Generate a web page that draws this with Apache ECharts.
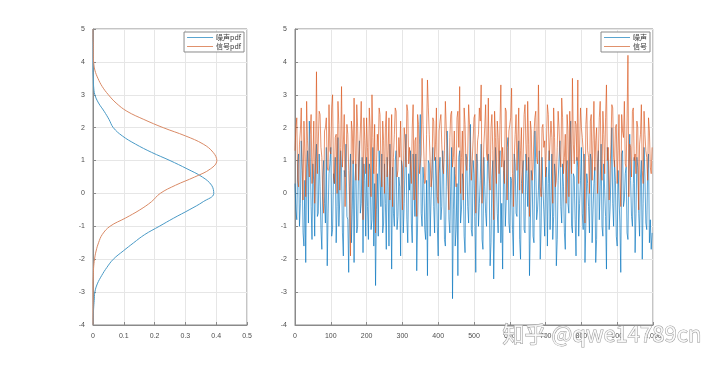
<!DOCTYPE html>
<html><head><meta charset="utf-8">
<script src="https://cdn.jsdelivr.net/npm/echarts@6/dist/echarts.min.js"></script>
<style>html,body{margin:0;padding:0;background:#fff}#c{width:720px;height:366px}</style>
</head><body><div id="c"></div>
<script>
// PDF curves: value level (y) and density (x)
const pdfLevels = [-4,-3.75,-3.5,-3.25,-3,-2.75,-2.5,-2.25,-2,-1.75,-1.5,-1.25,-1,-0.75,-0.5,-0.25,0,0.25,0.5,0.75,1,1.25,1.5,1.75,2,2.25,2.5,2.75,3,3.25,3.5,3.75,4,4.25,4.5,4.75,5];
const noisePdf = [0,0.001,0.002,0.004,0.006,0.014,0.028,0.045,0.066,0.098,0.132,0.168,0.215,0.262,0.312,0.358,0.392,0.385,0.355,0.305,0.25,0.19,0.138,0.095,0.066,0.052,0.036,0.018,0.006,0.002,0.001,0,0,0,0,0,0];
const signalPdf = [0,0,0,0,0,0,0.001,0.002,0.005,0.01,0.018,0.03,0.055,0.105,0.152,0.19,0.218,0.268,0.33,0.382,0.402,0.39,0.358,0.3,0.228,0.165,0.11,0.075,0.05,0.03,0.016,0.006,0.002,0.001,0.001,0,0];

// time series: samples at index 0,5,10,... and in-between samples at 2.5,7.5,...
const noiseSeries = [0.3,-0.8,1.2,-0.3,0.7,-1.6,-2.1,1.3,2.2,-0.4,0.9,-1.3,1.5,-0.6,0.2,-1.7,1.0,-0.9,-2.2,0.6,
1.4,-1.1,0.3,-1.5,1.7,-0.2,0.8,-1.9,0.5,-0.7,-2.4,1.2,-0.5,-2.1,0.9,-1.0,1.6,-0.3,-1.8,0.4,
1.1,-1.4,0.7,-0.8,-1.6,-2.8,0.6,1.3,-0.4,-1.2,0.9,-1.7,0.2,1.5,-2.3,-0.6,1.0,-1.1,0.5,-1.9,
0.8,-0.3,1.8,-1.5,0.1,-0.9,1.2,-0.7,-2.35,0.6,2.4,-1.0,0.3,-1.4,-2.5,0.9,-0.2,1.4,-1.2,0.5,
-1.9,1.1,-0.4,0.7,-1.6,1.9,-0.8,0.2,-3.2,0.8,-1.1,-2.5,1.3,-0.5,0.4,-1.8,1.0,-0.9,2.1,-1.3,
0.6,-2.4,0.9,-0.3,1.5,-1.7,0.2,-1.0,1.2,-2.2,0.5,-2.6,1.4,-0.6,0.8,-1.5,-2.3,1.0,-0.2,1.7,
-1.2,0.4,-1.9,0.9,-0.7,1.6,-2.0,0.3,-1.1,1.2,-0.4,-2.5,0.7,-1.3,1.9,-0.8,0.1,-2.0,1.1,-0.5,
0.6,-1.6,1.3,-0.2,-1.4,0.9,-2.2,0.4,1.6,-0.9,0.2,-1.7,1.0,-0.6,2.2,-1.2,0.5,-1.9,0.8,-0.3,
1.4,-1.1,-2.1,0.6,-0.4,1.2,-1.5,0.3,-2.1,0.9,-0.8,1.5,-1.3,0.1,-2.3,1.0,-0.5,2.0,-1.0,0.4,
-1.6,0.7,-2.4,1.3,-0.2,0.8,-1.4,1.8,-0.7,0.3,-1.8,1.1,-0.6,0.5,-2.0,1.4,-0.9,0.6,-1.5,-1.7];
const noiseSeriesMid = [-0.5,0.9,-1.0,1.6,-1.2,0.4,0.8,-0.9,1.1,-1.4,
0.3,1.0,-0.7,1.2,-1.1,0.5,-0.3,1.4,-0.6,0.9,
-1.3,0.6,1.1,-0.4,-1.0,1.3,-1.2,0.7,1.5,-0.8,
0.2,-1.5,1.0,0.4,-1.2,0.8,-0.6,1.1,0.9,-1.3,
-0.4,0.9,-1.1,1.4,0.3,-0.5,-1.3,0.5,1.2,-0.9,
-0.3,1.1,-1.6,0.4,0.8,-1.0,1.3,-0.7,0.2,1.0,
-1.2,0.9,-0.8,0.6,1.3,-1.5,0.1,1.2,-0.9,1.5,
-0.6,0.8,-1.1,0.4,1.0,-1.3,0.7,-0.4,1.1,-1.0,
0.6,-0.8,1.3,-1.4,0.2,0.9,-1.2,1.4,-0.5,-1.6,
0.3,1.1,-0.9,0.6,-1.3,1.2,-0.4,0.8,-1.1,1.0,
-0.7,1.2,-1.0,0.4,-1.4,1.1,-0.6,0.9,0.3,-1.5,
1.0,-0.8,0.5,-1.2,1.3,-0.3,0.7,-1.0,1.4,-0.9,
0.5,-1.1,1.2,-0.6,0.8,-1.4,0.3,1.0,-1.2,0.6,
1.1,-0.9,0.4,-1.5,0.9,-0.5,1.3,-1.0,0.2,-1.3,
0.8,0.3,-1.1,1.2,-0.7,0.5,-1.4,1.0,-0.4,0.9,
-1.2,0.7,-0.3,1.5,-1.0,0.6,-0.8,1.1,-1.3,0.4,
-0.6,1.2,-0.9,0.3,-1.2,1.0,-0.5,0.8,-1.4,1.3,
0.2,-1.0,0.9,-0.7,1.4,-1.1,0.5,-0.3,1.0,-1.3,
0.7,-0.9,1.2,-0.4,0.6,-1.2,0.9,0.4,-1.0,1.1,
-0.6,0.8,-1.3,1.0,-0.3,0.5,-1.1,1.2,-0.8,-1.2];
const signalSeries = [1.3,2.3,0.2,1.9,0.9,2.2,-0.1,1.6,0.5,2.4,1.0,-0.3,3.7,0.6,2.4,1.1,-0.6,2.0,0.8,2.7,
1.2,3.0,0.3,1.8,2.8,0.1,3.25,1.5,-0.4,2.1,0.7,-1.9,1.9,2.9,0.4,2.0,1.2,2.8,-0.8,1.6,
2.3,0.2,2.0,3.0,0.6,-1.2,1.8,2.6,0.9,2.2,0.0,2.5,1.3,-0.2,2.4,1.1,2.6,0.5,1.7,2.2,
-0.5,2.0,0.8,2.5,1.4,0.3,2.7,1.6,-0.7,2.1,0.9,3.5,1.2,0.4,3.45,1.8,0.2,2.3,1.0,2.6,
-0.3,2.2,1.5,0.6,2.8,1.3,-0.5,2.4,0.8,1.9,0.2,2.5,3.25,1.1,-0.2,2.1,0.7,2.7,1.4,0.4,
2.3,-0.6,1.6,2.6,3.3,0.5,2.0,1.2,2.9,0.1,2.4,-0.8,1.7,2.2,0.6,3.3,1.4,0.3,2.5,1.0,
2.1,3.2,-0.4,1.8,0.7,2.6,1.3,0.0,2.4,1.5,2.8,-0.7,1.9,0.8,2.3,1.1,3.3,0.2,2.0,1.4,
0.5,2.7,1.0,2.2,-0.3,1.7,0.4,2.5,1.2,2.9,0.6,1.8,2.4,-0.1,1.5,3.5,0.9,2.1,3.45,0.3,
2.0,1.3,-0.9,2.6,1.1,2.2,0.4,2.8,1.6,0.0,2.3,1.0,2.5,0.6,3.3,1.4,-0.2,2.7,1.1,2.0,
0.3,2.4,-0.4,1.9,2.8,0.8,4.2,1.5,0.5,2.6,1.2,2.2,-0.5,1.8,0.7,2.5,1.3,0.4,1.9,0.6];
const signalSeriesMid = [2.0,0.4,1.5,2.6,-0.2,1.2,2.8,0.9,1.8,0.3,
2.2,1.0,0.6,2.5,1.4,-0.1,1.9,2.3,0.7,1.3,
2.6,0.5,1.7,0.0,2.1,1.4,0.8,2.4,1.0,1.8,
-0.3,2.2,0.9,1.5,2.7,0.4,1.9,1.1,2.3,0.6,
1.4,2.6,-0.1,1.7,2.1,0.8,1.3,2.4,0.2,1.6,
2.0,0.5,2.3,1.2,-0.4,1.8,2.5,0.7,1.1,2.2,
0.4,1.6,2.7,0.9,1.4,2.0,-0.2,1.7,2.4,0.6,
1.2,2.1,0.3,1.8,2.6,1.0,0.5,2.2,1.5,-0.1,
1.9,2.4,0.8,1.3,2.0,0.2,1.7,2.5,1.1,0.6,
2.3,1.4,0.0,1.9,2.6,0.9,1.2,2.1,0.4,1.6,
2.4,0.7,1.8,2.2,-0.3,1.5,2.7,1.0,0.5,2.0,
1.3,2.5,0.3,1.7,2.1,0.8,1.4,2.6,-0.2,1.9,
2.3,0.6,1.1,2.4,1.6,0.1,2.0,1.2,2.7,0.7,
1.5,2.2,0.4,1.8,2.5,0.9,1.3,-0.1,2.1,1.6,
0.5,2.4,1.0,1.7,2.6,0.2,1.4,2.0,0.8,2.3,
1.1,-0.3,1.9,2.5,0.6,1.5,2.2,1.0,0.3,2.6,
1.7,0.9,2.1,1.3,0.0,2.4,1.6,0.7,2.0,1.2,
2.8,0.4,1.8,2.3,1.0,-0.2,1.5,2.6,0.8,2.1,
1.3,0.5,2.4,1.7,0.9,2.2,-0.1,1.4,2.5,1.0,
0.6,2.0,1.5,2.7,0.3,1.8,1.1,2.3,0.8,1.4];

const pdfXTicks = [0,0.1,0.2,0.3,0.4,0.5];
const levelTicks = [-4,-3,-2,-1,0,1,2,3,4,5];
const sampleTicks = [0,100,200,300,400,500,600,700,800,900,1000];

function interleave(a, b){
  const out = [];
  for (let i = 0; i < a.length; i++){ out.push([i*5, a[i]]); out.push([i*5+2.5, b[i]]); }
  return out;
}

const BLUE = '#0072BD', ORANGE = '#D95319';
const LBLUE = '#5aa5d0', LORANGE = '#e0916c';
const chart = echarts.init(document.getElementById('c'), null, {renderer:'canvas'});
const axisCommon = {
  axisLine:{show:true, onZero:false, lineStyle:{color:'#8a8a8a', width:1}},
  axisTick:{show:true, inside:true, length:3, lineStyle:{color:'#8a8a8a'}},
  axisLabel:{fontSize:7, color:'#4d4d4d', fontFamily:'Liberation Sans'},
  splitLine:{show:true, lineStyle:{color:'#e6e6e6', width:1}}
};
const legendCommon = {
  orient:'vertical', itemWidth:26, itemHeight:2, itemGap:2, icon:'path://M0,0H26V1H0Z',
  backgroundColor:'#fff', borderColor:'#8a8a8a', borderWidth:1, padding:[2,3,2,3],
  textStyle:{fontSize:7, color:'#333', fontFamily:'Noto Sans CJK SC', padding:[0,0,0,-2]}
};
function legItem(name, c){ return {name:name, itemStyle:{color:c, borderWidth:0}, lineStyle:{color:c}}; }
chart.setOption({
  animation:false,
  backgroundColor:'#fff',
  grid:[
    {left:93, right:473, top:29, bottom:41, show:true, borderColor:'#8a8a8a', borderWidth:1},
    {left:295, right:67, top:29, bottom:41, show:true, borderColor:'#8a8a8a', borderWidth:1}
  ],
  legend:[
    Object.assign({}, legendCommon, {right:476, top:32,
      data:[legItem('噪声pdf', LBLUE), legItem('信号pdf', LORANGE)]}),
    Object.assign({}, legendCommon, {right:70, top:32,
      data:[legItem('噪声', LBLUE), legItem('信号', LORANGE)]})
  ],
  xAxis:[
    Object.assign({}, axisCommon, {type:'value', gridIndex:0, min:0, max:0.5, interval:0.1,
      axisLabel:Object.assign({}, axisCommon.axisLabel, {formatter:v=>String(+(+v).toFixed(1))})}),
    Object.assign({}, axisCommon, {type:'value', gridIndex:1, min:0, max:1000, interval:100})
  ],
  yAxis:[
    Object.assign({}, axisCommon, {type:'value', gridIndex:0, min:-4, max:5, interval:1}),
    Object.assign({}, axisCommon, {type:'value', gridIndex:1, min:-4, max:5, interval:1})
  ],
  series:[
    {name:'噪声pdf', type:'line', xAxisIndex:0, yAxisIndex:0, smooth:0.4, showSymbol:false,
     color:LBLUE, lineStyle:{width:1, color:'#4a9ac6'}, data:pdfLevels.map((y,i)=>[noisePdf[i],y])},
    {name:'信号pdf', type:'line', xAxisIndex:0, yAxisIndex:0, smooth:0.4, showSymbol:false,
     color:LORANGE, lineStyle:{width:1, color:'#d98a66'}, data:pdfLevels.map((y,i)=>[signalPdf[i],y])},
    {name:'噪声', type:'line', xAxisIndex:1, yAxisIndex:1, showSymbol:false,
     color:LBLUE, lineStyle:{width:0.8, color:'rgba(0,114,189,0.8)'}, data:interleave(noiseSeries, noiseSeriesMid)},
    {name:'信号', type:'line', xAxisIndex:1, yAxisIndex:1, showSymbol:false,
     color:LORANGE, lineStyle:{width:0.8, color:'rgba(217,83,25,0.8)'}, data:interleave(signalSeries, signalSeriesMid)}
  ],
  graphic:[{type:'text', left:502, top:322, z:100, silent:true,
    style:{text:'知乎 @qwe14789cn', font:'22px "Noto Sans CJK SC"', fill:'rgba(255,255,255,0.85)', stroke:'#9a9a9a', lineWidth:1}}]
});
</script></body></html>
